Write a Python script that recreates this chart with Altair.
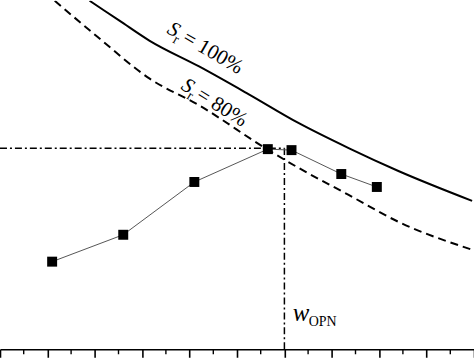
import altair as alt
import pandas as pd

# Compaction test points (water content %, dry density g/cm3)
w_pts = [6.2, 9.2, 12.2, 15.3, 16.3, 18.4, 19.9]
rho_pts = [1.488, 1.515, 1.568, 1.601, 1.600, 1.576, 1.563]

# Saturation line Sr = 100%
sat100_w = [7.78, 9.04, 10.30, 12.40, 14.50, 16.61, 18.71, 20.81, 23.92]
sat100_rho = [1.750, 1.730, 1.710, 1.684, 1.656, 1.627, 1.602, 1.579, 1.549]

# Saturation line Sr = 80%
sat80_w = [6.31, 8.20, 10.30, 12.40, 15.26, 16.61, 18.71, 20.81, 23.92]
sat80_rho = [1.750, 1.712, 1.672, 1.645, 1.601, 1.582, 1.555, 1.528, 1.500]

w_opn = 16.0
rho_max = 1.602
w_min = 4
rho_min = 1.40

major_ticks = list(range(4, 25, 2))
minor_ticks = list(range(5, 24, 2))

FONT = "Liberation Serif"

xs = alt.Scale(domain=[4, 24], nice=False, zero=False)
ys = alt.Scale(domain=[1.40, 1.75], nice=False, zero=False)

pts = pd.DataFrame({"w": w_pts, "rho": rho_pts})
s100 = pd.DataFrame({"w": sat100_w, "rho": sat100_rho})
s80 = pd.DataFrame({"w": sat80_w, "rho": sat80_rho})

major_axis = alt.Axis(values=major_ticks, labels=False, title=None, grid=False,
                      tickSize=8, tickWidth=1.6, tickColor="black",
                      domainColor="black", domainWidth=1.6, orient="bottom")


def X(field="w"):
    return alt.X(f"{field}:Q", scale=xs, axis=major_axis)


def Y(field="rho"):
    return alt.Y(f"{field}:Q", scale=ys, axis=None)


line100 = alt.Chart(s100).mark_line(color="black", strokeWidth=2, clip=True,
                                    interpolate="monotone").encode(x=X(), y=Y())
line80 = alt.Chart(s80).mark_line(color="black", strokeWidth=2, strokeDash=[8, 5], clip=True,
                                  interpolate="monotone").encode(x=X(), y=Y())

hline = alt.Chart(pd.DataFrame({"w": [w_min], "w2": [w_opn], "rho": [rho_max]})).mark_rule(
    color="black", strokeWidth=1.5, strokeDash=[7, 3, 2, 3]).encode(x=X(), x2="w2:Q", y=Y())
vline = alt.Chart(pd.DataFrame({"w": [w_opn], "rho": [rho_min], "rho2": [rho_max]})).mark_rule(
    color="black", strokeWidth=1.5, strokeDash=[7, 3, 2, 3]).encode(x=X(), y=Y(), y2="rho2:Q")

minor = alt.Chart(pd.DataFrame({"w": minor_ticks})).mark_rule(color="black", strokeWidth=1.4).encode(
    x=X(), y=alt.value(350), y2=alt.value(355))

conn = alt.Chart(pts).mark_line(color="#555555", strokeWidth=1).encode(x=X(), y=Y())
marks = alt.Chart(pts).mark_point(shape="square", filled=True, size=100, color="black", opacity=1).encode(
    x=X(), y=Y())


def label(w, rho, pieces, angle):
    layers = []
    df = pd.DataFrame({"w": [w], "rho": [rho]})
    for txt, dx, dy, size, style in pieces:
        layers.append(
            alt.Chart(df).mark_text(text=txt, font=FONT, fontSize=size, fontStyle=style,
                                    align="left", baseline="alphabetic", angle=angle,
                                    dx=dx, dy=dy, color="black").encode(x=X(), y=Y()))
    return layers


lab100 = label(11.0, 1.718, [("S", 0, 0, 21, "italic"), ("r", 10, 5, 14, "normal"),
                              ("= 100%", 18, 0, 21, "normal")], 30)
lab80 = label(11.6, 1.662, [("S", 0, 0, 21, "italic"), ("r", 10, 5, 14, "normal"),
                             ("= 80%", 18, 0, 21, "normal")], 32)
labw = label(16.35, 1.428, [("w", 0, 0, 25, "italic"), ("OPN", 16, 5, 14, "normal")], 0)

chart = alt.layer(line100, vline, line80, hline, conn, marks, minor, *lab100, *lab80, *labw).properties(
    width=476, height=350,
    padding={"left": 0, "top": 0, "right": 0, "bottom": 8},
    autosize=alt.AutoSizeParams(type="none"),
    background="white").configure_view(stroke=None)

chart.save("out.html", embed_options={"renderer": "svg", "actions": False})
